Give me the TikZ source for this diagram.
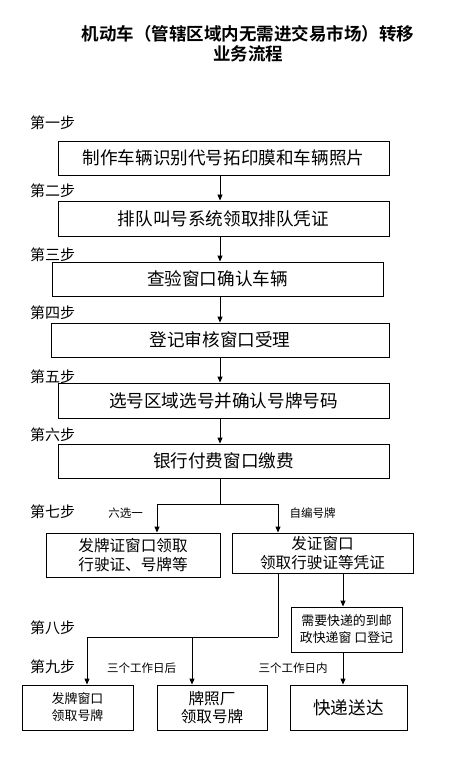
\documentclass[tikz,border=0pt]{standalone}
\usepackage{fontspec}
\setmainfont{Noto Sans CJK SC}[BoldFont={Noto Sans CJK SC Bold}]
\usepackage{tikz}
\usetikzlibrary{arrows.meta,positioning,calc}
\usepackage{xcolor}
\definecolor{ink}{HTML}{000000}
\definecolor{paper}{HTML}{FFFFFF}
\tikzset{
  base/.style={font=\fontsize{15.5}{18}\selectfont, text=ink},
  title/.style={base, font=\bfseries\fontsize{17.5}{19.5}\selectfont, align=center},
  steplabel/.style={base, font=\fontsize{15}{17}\selectfont, anchor=west, inner sep=0pt},
  note/.style={base, font=\fontsize{11.5}{13}\selectfont, inner sep=0pt},
  box/.style={base, draw=ink, fill=paper, line width=0.9pt, align=center, inner sep=0pt, font=\fontsize{17.6}{20}\selectfont},
  smallbox/.style={box, font=\fontsize{15.6}{18.5}\selectfont},
  tinybox/.style={box, font=\fontsize{12.9}{17}\selectfont},
  line/.style={draw=ink, line width=0.9pt},
  arrow/.style={line, -{Triangle[length=6pt,width=5pt]}},
}
\begin{document}
\begin{tikzpicture}[x=1pt,y=-1pt]
  \useasboundingbox (0,0) rectangle (455,767);
  \node[title] (head) at (248,43.5) {机动车（管辖区域内无需进交易市场）转移\\业务流程};

  \node[steplabel] (l1) at (30,123) {第一步};
  \node[steplabel] (l2) at (30,191) {第二步};
  \node[steplabel] (l3) at (30,255) {第三步};
  \node[steplabel] (l4) at (30,313) {第四步};
  \node[steplabel] (l5) at (30,377) {第五步};
  \node[steplabel] (l6) at (30,435) {第六步};
  \node[steplabel] (l7) at (30,512) {第七步};
  \node[steplabel] (l8) at (30,628) {第八步};
  \node[steplabel] (l9) at (30,667) {第九步};

  \node[box,minimum width=331pt,minimum height=34pt] (s1) at (223.5,158) {制作车辆识别代号拓印膜和车辆照片};
  \node[box,minimum width=331pt,minimum height=35pt] (s2) at (223.5,218.5) {排队叫号系统领取排队凭证};
  \node[box,minimum width=331pt,minimum height=34pt] (s3) at (217.5,279) {查验窗口确认车辆};
  \node[box,minimum width=338pt,minimum height=34pt] (s4) at (220,340) {登记审核窗口受理};
  \node[box,minimum width=331pt,minimum height=35pt] (s5) at (223.5,400.5) {选号区域选号并确认号牌号码};
  \node[box,minimum width=331pt,minimum height=34pt] (s6) at (223.5,461) {银行付费窗口缴费};
  \node[smallbox,minimum width=174pt,minimum height=44pt] (s7a) at (133,555) {发牌证窗口领取\\行驶证、号牌等};
  \node[smallbox,minimum width=181pt,minimum height=40pt] (s7b) at (322.5,553) {发证窗口\\领取行驶证等凭证};
  \node[tinybox,minimum width=111pt,minimum height=45pt] (s8) at (346.5,629.5) {需要快递的到邮\\政快递窗 口登记};
  \node[tinybox,minimum width=111pt,minimum height=45pt] (s9a) at (77.5,707.5) {发牌窗口\\领取号牌};
  \node[smallbox,minimum width=110pt,minimum height=45pt] (s9b) at (212,707.5) {牌照厂\\领取号牌};
  \node[box,minimum width=117pt,minimum height=45pt] (s9c) at (348.5,707.5) {快递送达};

  \node[note] (n1) at (125.5,513) {六选一};
  \node[note] (n2) at (312.5,513) {自编号牌};
  \node[note] (n3) at (141.5,668) {三个工作日后};
  \node[note] (n4) at (293,668) {三个工作日内};

  \coordinate (spine) at (220,0);
  \coordinate (j7) at (220,504);
  \coordinate (j8) at (278,637);
  \coordinate (mail) at (343,0);

  \draw[arrow] (s1.south -| spine) -- (s2.north -| spine);
  \draw[arrow] (s2.south -| spine) -- (s3.north -| spine);
  \draw[arrow] (s3.south -| spine) -- (s4.north -| spine);
  \draw[arrow] (s4.south -| spine) -- (s5.north -| spine);
  \draw[arrow] (s5.south -| spine) -- (s6.north -| spine);
  \draw[line] (s6.south -| spine) -- (j7);
  \draw[arrow] (j7) -| ([xshift=24pt]s7a.north);
  \draw[arrow] (j7) -| (s7b.north -| j8);
  \draw[line] (s7b.south -| j8) -- (j8);
  \draw[arrow] (j8) -| ([xshift=9.5pt]s9a.north);
  \draw[arrow] ([xshift=-20pt]s9b.north |- j8) -- ([xshift=-20pt]s9b.north);
  \draw[arrow] (s7b.south -| mail) -- (s8.north -| mail);
  \draw[arrow] (s8.south -| mail) -- (s9c.north -| mail);
\end{tikzpicture}
\end{document}
